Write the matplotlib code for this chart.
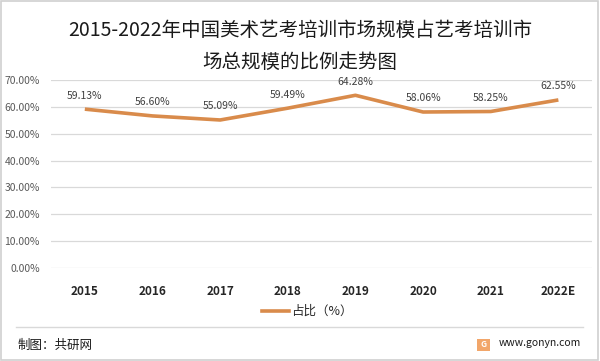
import matplotlib
matplotlib.use('Agg')
import matplotlib.pyplot as plt
from matplotlib.patches import Rectangle
from matplotlib.lines import Line2D

plt.rcParams['font.family'] = ['Noto Sans CJK SC', 'DejaVu Sans']

# datos
years = ['2015', '2016', '2017', '2018', '2019', '2020', '2021', '2022E']
share = [59.13, 56.60, 55.09, 59.49, 64.28, 58.06, 58.25, 62.55]
yticks = [0, 10, 20, 30, 40, 50, 60, 70]

color = '#D98B4B'

fig = plt.figure(figsize=(6, 3.61), dpi=100)
fig.patch.set_facecolor('white')

# marco exterior gris
fig.add_artist(Rectangle((0.002, 0.003), 0.995, 0.994, transform=fig.transFigure,
                         fill=False, edgecolor='#d0d0d0', linewidth=1.2))

ax = fig.add_axes([0.085, 0.2576, 0.902, 0.521])
x = list(range(len(years)))
ax.plot(x, share, color=color, linewidth=2.6, solid_capstyle='butt')
for xi, v in zip(x, share):
    ax.text(xi, v + 3.2, f'{v:.2f}%', ha='center', va='bottom', fontsize=7.5, color='#404040')

ax.set_xlim(-0.5, len(years) - 0.5)
ax.set_ylim(0, 70)
ax.set_yticks(yticks)
ax.set_yticklabels([f'{t:.2f}%' for t in yticks], fontsize=7.5, color='#595959')
ax.set_xticks(x)
ax.set_xticklabels(years, fontsize=8.5, color='#262626', fontweight='semibold')
ax.tick_params(axis='both', length=0)
ax.tick_params(axis='x', pad=12)
ax.tick_params(axis='y', pad=8)
ax.grid(axis='y', color='#d9d9d9', linewidth=0.9)
ax.set_axisbelow(True)
for s in ax.spines.values():
    s.set_visible(False)

# titulo
fig.text(0.5, 0.915, '2015-2022年中国美术艺考培训市场规模占艺考培训市', ha='center', va='center',
         fontsize=14, color='#1a1a1a')
fig.text(0.5, 0.826, '场总规模的比例走势图', ha='center', va='center',
         fontsize=14, color='#1a1a1a')

# leyenda
fig.add_artist(Line2D([0.437, 0.481], [0.139, 0.139], transform=fig.transFigure,
                      color=color, linewidth=2.6))
fig.text(0.485, 0.139, '占比（%）', ha='left', va='center', fontsize=9, color='#262626')

# linea separadora y pie
fig.add_artist(Line2D([0.027, 0.972], [0.093, 0.093], transform=fig.transFigure,
                      color='#d9d9d9', linewidth=1))
fig.text(0.03, 0.043, '制图：共研网', ha='left', va='center', fontsize=9, color='#1a1a1a')
fig.add_artist(Rectangle((0.795, 0.028), 0.022, 0.034, transform=fig.transFigure,
                         facecolor='#F2A66A', edgecolor='none'))
fig.text(0.806, 0.045, 'G', ha='center', va='center', fontsize=6, color='white', fontweight='bold')
fig.text(0.832, 0.05, 'www.gonyn.com', ha='left', va='center', fontsize=7.5, color='#1a1a1a')

fig.savefig('out.png', dpi=100, facecolor='white')
